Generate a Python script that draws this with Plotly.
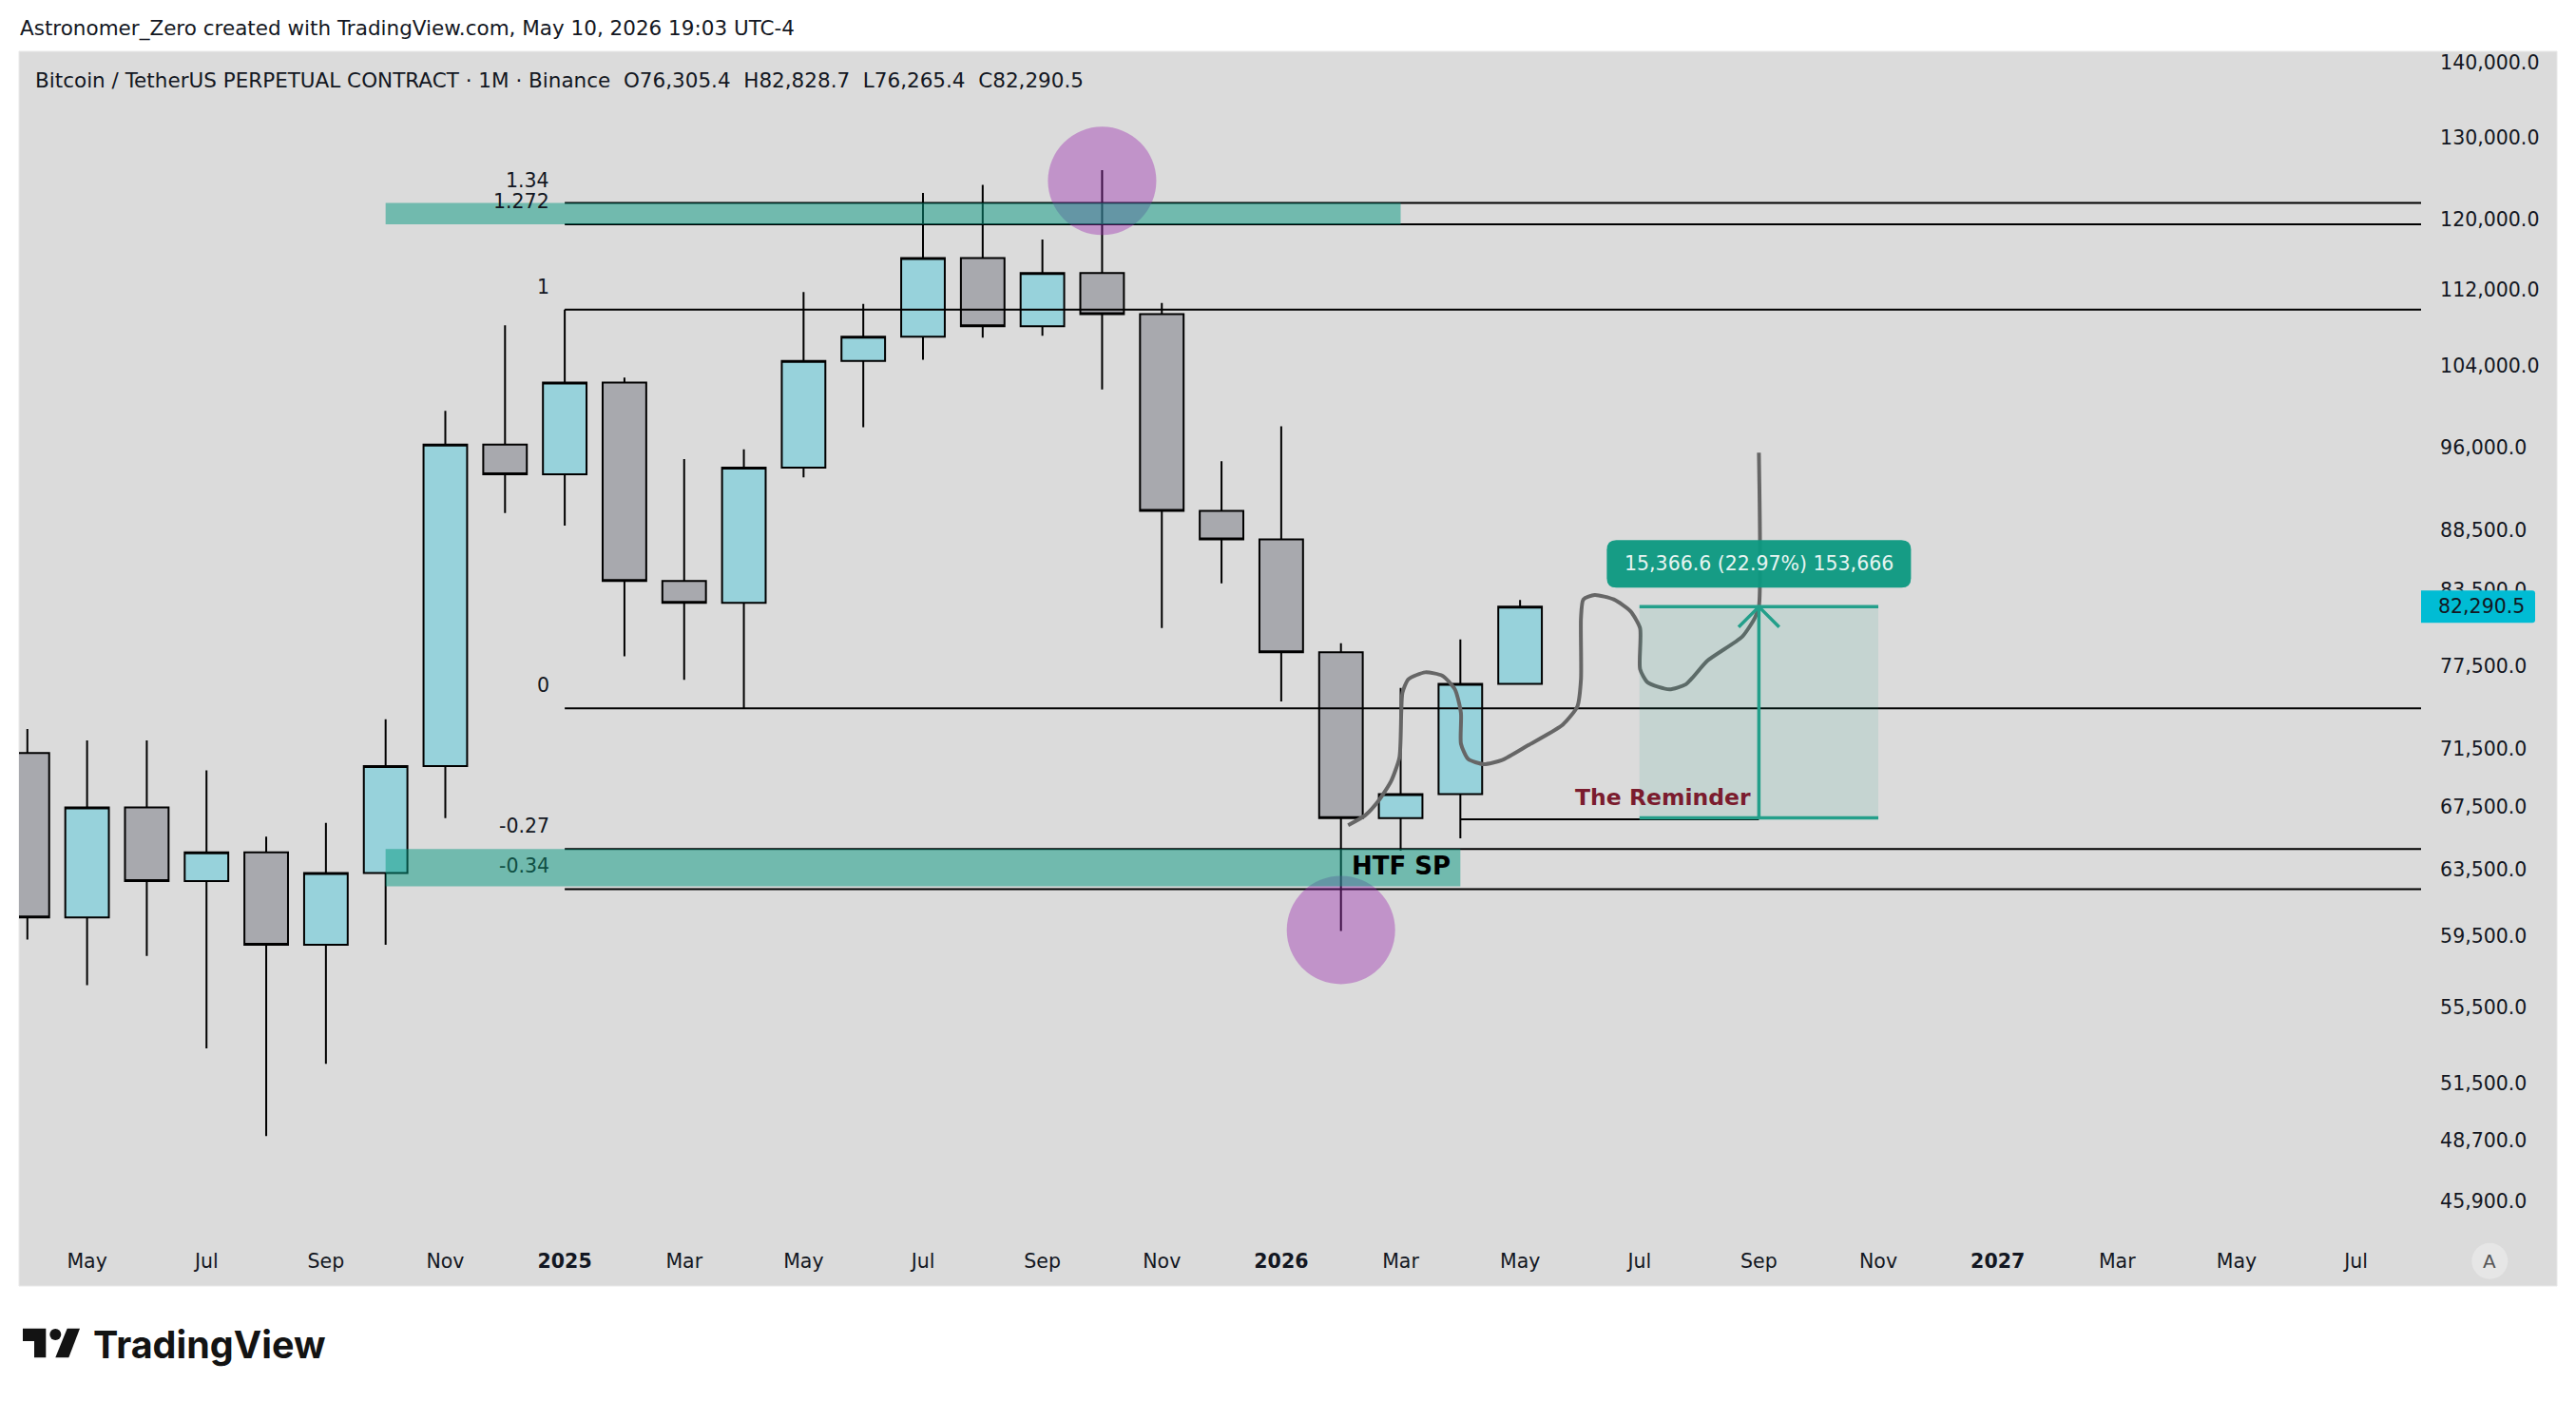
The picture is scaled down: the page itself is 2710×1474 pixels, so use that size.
import math
import plotly.graph_objs as go

W, H = 2710, 1474
PLOT_L, PLOT_R, PLOT_T, PLOT_B = 20, 2547, 54, 1300
X_MIN, X_MAX = -0.14, 40.09

# months from Apr 2024, one slot per month (the chart spaces them evenly)
month_idx = list(range(26))
opens = [71300, 60700, 67600, 62900, 64700, 59100, 63400, 70400, 96450, 93700, 102500, 84400, 82600,
         94300, 104700, 107200, 115800, 108300, 114100, 109600, 90400, 87900, 78700, 66900, 68500, 76305.4]
highs = [73000, 72200, 72200, 70100, 65700, 66600, 73700, 99700, 108400, 110080, 103000, 95100, 96000,
         112000, 110700, 123400, 124400, 117900, 126200, 110800, 94900, 98200, 79400, 76000, 79700, 82828.7]
lows = [59400, 56800, 58450, 53400, 49000, 52600, 59100, 66900, 90200, 89100, 78400, 76600, 74500,
        93400, 98100, 104800, 107100, 107300, 101800, 80600, 84200, 75000, 59900, 64800, 65600, 76265.4]
closes = [60700, 67600, 62900, 64700, 59100, 63400, 70400, 96450, 93700, 102500, 84400, 82600, 94300,
          104700, 107200, 115800, 108300, 114100, 109600, 90400, 87900, 78700, 66900, 68500, 76300, 82290.5]

x_tickvals = [1, 3, 5, 7, 9, 11, 13, 15, 17, 19, 21, 23, 25, 27, 29, 31, 33, 35, 37, 39]
x_ticktext = ['May', 'Jul', 'Sep', 'Nov', '<b>2025</b>', 'Mar', 'May', 'Jul', 'Sep', 'Nov', '<b>2026</b>',
              'Mar', 'May', 'Jul', 'Sep', 'Nov', '<b>2027</b>', 'Mar', 'May', 'Jul']
y_ticks = [140000, 130000, 120000, 112000, 104000, 96000, 88500, 83500, 77500, 71500, 67500, 63500,
           59500, 55500, 51500, 48700, 45900]

fib_labels = ['1.34', '1.272', '1', '0', '-0.27', '-0.34']
fib_prices = [122200, 119680, 110080, 74500, 64910, 62410]
fib_start, fib_end = 9, X_MAX

circle_x = [18, 22]
circle_y = [124880, 59960]

# hand drawn curve on the chart
brush_x = [22.12, 22.41, 22.62, 22.84, 22.98, 23.01, 23.03, 23.13, 23.41, 23.70, 23.91, 24.01, 24.01, 24.13,
           24.39, 24.70, 25.13, 25.71, 25.96, 26.02, 26.02, 26.06, 26.25, 26.57, 26.85, 27.01, 27.01, 27.14,
           27.50, 27.78, 28.14, 28.72, 28.93, 29.0, 29.0]
brush_y = [66440, 67100, 68000, 69370, 71010, 74150, 75640, 76650, 77170, 76910, 75890, 74150, 71960, 70890,
           70530, 70820, 71840, 73300, 74640, 76650, 81380, 82880, 83240, 82880, 81920, 80570, 77420, 76400,
           75890, 76280, 78060, 79910, 81380, 82290, 95700]

tool_top, tool_bottom = 82290.5, 66923.9
tool_left, tool_mid, tool_right = 27, 29, 31
arrow_x = [28.66, 29, 29.34]
arrow_y = [80670, 82290.5, 80670]
last_price = 82290.5

BG = '#dbdbdb'
TEXT = '#131722'
TEAL = '#26a08c'
BAND = 'rgba(8,153,129,0.5)'
FONT = 'DejaVu Sans'


def px(x):
    return (x - PLOT_L) / (PLOT_R - PLOT_L)


def py(y):
    return (PLOT_B - y) / (PLOT_B - PLOT_T)


def label(text, x, y, size=20.5, color=TEXT, anchor='left', family=FONT):
    return dict(text=text, x=px(x), y=py(y), xref='paper', yref='paper', xanchor=anchor, yanchor='middle',
                showarrow=False, font=dict(size=size, color=color, family=family))


fig = go.Figure()
fig.add_trace(go.Candlestick(
    x=month_idx, open=opens, high=highs, low=lows, close=closes,
    increasing=dict(fillcolor='#97d2db', line=dict(color='#000000', width=2)),
    decreasing=dict(fillcolor='#a8a9ae', line=dict(color='#000000', width=2)),
    hoverinfo='skip', showlegend=False))

for price in fib_prices:
    fig.add_trace(go.Scatter(x=[fib_start, fib_end], y=[price, price], mode='lines',
                             line=dict(color='#000000', width=2), hoverinfo='skip', showlegend=False))

fig.add_trace(go.Scatter(x=[24, tool_mid], y=[tool_bottom - 100, tool_bottom - 100], mode='lines',
                         line=dict(color='#000000', width=2), hoverinfo='skip', showlegend=False))
fig.add_trace(go.Scatter(x=circle_x, y=circle_y, mode='markers',
                         marker=dict(size=114, color='rgba(156,39,176,0.4)', line=dict(width=0)),
                         hoverinfo='skip', showlegend=False))
fig.add_trace(go.Scatter(x=brush_x, y=brush_y, mode='lines',
                         line=dict(color='#666666', width=4, shape='spline', smoothing=0.6),
                         hoverinfo='skip', showlegend=False))
fig.add_trace(go.Scatter(x=[tool_mid, tool_mid], y=[tool_bottom, tool_top], mode='lines',
                         line=dict(color=TEAL, width=3.5), hoverinfo='skip', showlegend=False))
fig.add_trace(go.Scatter(x=arrow_x, y=arrow_y, mode='lines',
                         line=dict(color=TEAL, width=3.5), hoverinfo='skip', showlegend=False))
fig.add_trace(go.Scatter(x=[tool_left, tool_right], y=[tool_top, tool_top], mode='lines',
                         line=dict(color=TEAL, width=3.5), hoverinfo='skip', showlegend=False))
fig.add_trace(go.Scatter(x=[tool_left, tool_right], y=[tool_bottom, tool_bottom], mode='lines',
                         line=dict(color=TEAL, width=3.5), hoverinfo='skip', showlegend=False))

# grey panel behind chart and both axes
fig.add_shape(type='rect', xref='paper', yref='paper', x0=px(20), x1=px(2690), y0=py(1353), y1=py(54),
              fillcolor=BG, line=dict(color='#e9e9e9', width=1), layer='below')

# zones
fig.add_shape(type='rect', x0=6, x1=23, y0=fib_prices[1], y1=fib_prices[0], fillcolor=BAND, line_width=0, layer='above')
fig.add_shape(type='rect', x0=6, x1=24, y0=62580, y1=fib_prices[4], fillcolor=BAND, line_width=0, layer='above')
fig.add_shape(type='rect', x0=tool_left, x1=tool_right, y0=tool_bottom, y1=tool_top,
              fillcolor='rgba(8,153,129,0.1)', line_width=0, layer='above')

# green measure label
pill = 'M -150,20 L 150,20 Q 160,20 160,30 L 160,60 Q 160,70 150,70 L -150,70 Q -160,70 -160,60 L -160,30 Q -160,20 -150,20 Z'
fig.add_shape(type='path', xsizemode='pixel', ysizemode='pixel', xanchor=tool_mid, yanchor=tool_top, path=pill,
              fillcolor='rgba(12,153,129,0.95)', line_width=0, layer='above')

# last price tag over the price scale
tag = 'M 0,-17 L 117,-17 Q 120,-17 120,-14 L 120,14 Q 120,17 117,17 L 0,17 Z'
fig.add_shape(type='path', xref='paper', xsizemode='pixel', ysizemode='pixel', xanchor=1, yanchor=last_price, path=tag,
              fillcolor='#00bcd4', line_width=0, layer='above')

# auto scale button
fig.add_shape(type='circle', xref='paper', yref='paper', x0=px(2600.3), x1=px(2638.3), y0=py(1345.7), y1=py(1307.7),
              fillcolor='#e6e6e6', line_width=0, layer='above')

# logo
def poly(points):
    return 'M ' + ' L '.join(f'{px(a):.5f},{py(b):.5f}' for a, b in points) + ' Z'


logo_paths = [
    [(24, 1397.7), (48.3, 1397.7), (48.3, 1428.3), (36, 1428.3), (36, 1411), (24, 1411)],
    [(70.7, 1397.7), (84, 1397.7), (72.3, 1428.3), (58.3, 1428.3)],
]
for points in logo_paths:
    fig.add_shape(type='path', xref='paper', yref='paper', path=poly(points), fillcolor='#131313', line_width=0, layer='above')
fig.add_shape(type='circle', xref='paper', yref='paper', x0=px(52.3), x1=px(64.3), y0=py(1410), y1=py(1398),
              fillcolor='#131313', line_width=0, layer='above')

annotations = [
    label('Astronomer_Zero created with TradingView.com, May 10, 2026 19:03 UTC-4', 19, 30, size=21.5),
    label('Bitcoin / TetherUS PERPETUAL CONTRACT · 1M · Binance  O76,305.4  H82,828.7  L76,265.4  C82,290.5', 35, 85, size=21.5),
    label('<b>TradingView</b>', 96, 1415, size=39.5, color='#131313', family='Inter'),
    label('A', 2619.3, 1327, size=20, color='#555555', anchor='center'),
]
# annotations on a log axis take log10 of the price
for name, price in zip(fib_labels, fib_prices):
    color = '#0f4f43' if name == '-0.34' else TEXT
    annotations.append(dict(text=name, x=8.77, y=math.log10(price), xanchor='right', yanchor='middle', yshift=24, showarrow=False,
                            yref='y', xref='x', font=dict(size=20.5, color=color, family=FONT)))
annotations.append(dict(text='<b>HTF SP</b>', x=23, y=math.log10(63840), xref='x', yref='y', showarrow=False,
                        font=dict(size=26, color='#000000', family=FONT)))
annotations.append(dict(text='<b>The Reminder</b>', x=27.4, y=math.log10(68300), xref='x', yref='y', showarrow=False,
                        font=dict(size=23.5, color='#7b1c2e', family=FONT)))
annotations.append(dict(text='15,366.6 (22.97%) 153,666', x=tool_mid, y=math.log10(tool_top), xref='x', yref='y', yshift=45, showarrow=False,
                        font=dict(size=20.5, color='#e6f4f1', family=FONT)))
annotations.append(dict(text='82,290.5', x=1, y=math.log10(last_price), xref='paper', yref='y', xanchor='left', xshift=16, showarrow=False,
                        font=dict(size=20.5, color=TEXT, family=FONT)))

fig.update_layout(
    width=W, height=H,
    margin=dict(l=PLOT_L, r=W - PLOT_R, t=PLOT_T, b=H - PLOT_B, pad=0),
    paper_bgcolor='#ffffff', plot_bgcolor=BG,
    showlegend=False, boxgap=0.27, boxgroupgap=0,
    annotations=annotations,
    font=dict(family=FONT, size=20.5, color=TEXT),
    xaxis=dict(range=[X_MIN, X_MAX], tickvals=x_tickvals, ticktext=x_ticktext, showgrid=False, zeroline=False,
               rangeslider=dict(visible=False), ticks='outside', ticklen=8, tickcolor='rgba(0,0,0,0)', showline=False),
    yaxis=dict(type='log', side='right', autorange=False, range=[4.64787, 5.15159], tickvals=y_ticks,
               ticktext=[f'{v:,.1f}' for v in y_ticks], showgrid=False, zeroline=False, ticklabelshift=-2,
               ticks='outside', ticklen=15, tickcolor='rgba(0,0,0,0)', showline=False),
)
fig.write_html("out.html", config={'displayModeBar': False}, post_script="document.body.style.margin='0';")
